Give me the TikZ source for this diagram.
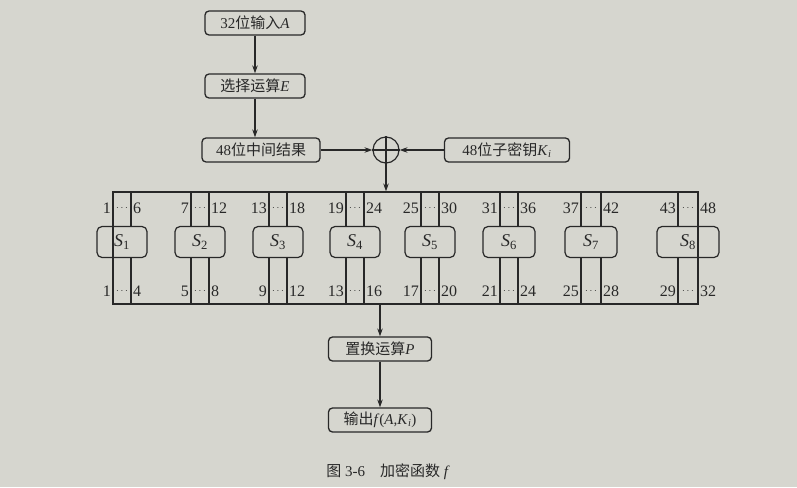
\documentclass[tikz,border=0pt]{standalone}
\usepackage{fontspec}
\setmainfont{Liberation Serif}
\newfontfamily\cjk{Noto Sans CJK SC}
\usetikzlibrary{shapes.geometric, arrows.meta}
\definecolor{paper}{RGB}{214,214,207}
\definecolor{ink}{RGB}{40,40,40}
\tikzstyle{opbox} = [rectangle, rounded corners=4pt, minimum height=24pt, inner xsep=3pt, text centered, draw=ink, line width=1.3pt, font=\fontsize{15}{17}\selectfont]
\tikzstyle{sbox} = [rectangle, rounded corners=5pt, minimum height=31pt, draw=ink, line width=1.2pt, font=\fontsize{18}{20}\selectfont]
\tikzstyle{bank} = [rectangle, draw=ink, line width=1.2pt, inner sep=0pt]
\tikzstyle{bitno} = [inner sep=2pt, font=\fontsize{16}{18}\selectfont]
\tikzstyle{bitdots} = [inner sep=0pt, font=\fontsize{10}{12}\selectfont]
\tikzstyle{arrow} = [draw=ink, line width=1.1pt, -{Stealth[length=8pt, width=5.5pt]}]

\begin{document}
\begin{tikzpicture}[x=1pt, y=-1pt, color=ink]
\useasboundingbox [fill=paper] (0,0) rectangle (797,487);
\node (input) [opbox, minimum width=100pt] at (255,23) {32{\cjk 位输入}\textit{A}};
\node (expand) [opbox, minimum width=100pt] at (255,86) {{\cjk 选择运算}\textit{E}};
\node (mid) [opbox, minimum width=118pt] at (261,150) {48{\cjk 位中间结果}};
\node (xor) [circle, draw=ink, line width=1.2pt, minimum size=26pt, inner sep=0pt] at (386,150) {};
\node (key) [opbox, minimum width=125pt] at (507,150) {48{\cjk 位子密钥}\textit{K}\textsubscript{\textit{i}}};
\node (sbank) [bank, minimum width=585pt, minimum height=112pt] at (405.5,248) {};
\node (perm) [opbox, minimum width=103pt] at (380,349) {{\cjk 置换运算}\textit{P}};
\node (output) [opbox, minimum width=103pt] at (380,420) {{\cjk 输出}\textit{f}(\textit{A},\textit{K}\textsubscript{\textit{i}})};
\node (caption) [font=\fontsize{15}{17}\selectfont] at (388,472) {{\cjk 图} 3-6\quad{\cjk 加密函数} \textit{f}};
% plus sign inside the xor
\draw [line width=1.1pt] (xor.north) -- (xor.south);
\draw [line width=1.1pt] (xor.west) -- (xor.east);
% the eight S-boxes
\foreach \i/\cx/\w/\h/\ia/\ib/\oa/\ob in {1/122/50/9/1/6/1/4, 2/200/50/9/7/12/5/8, 3/278/50/9/13/18/9/12, 4/355/50/9/19/24/13/16, 5/430/50/9/25/30/17/20, 6/509/52/9/31/36/21/24, 7/591/52/10/37/42/25/28, 8/688/62/10/43/48/29/32}{
  \node (s\i) [sbox, minimum width=\w pt] at (\cx,242) {\textit{S}\textsubscript{\i}};
  \draw [line width=1.2pt] ([xshift=-\h pt]s\i.north) -- ([xshift=-\h pt]s\i.north |- sbank.north);
  \draw [line width=1.2pt] ([xshift=\h pt]s\i.north) -- ([xshift=\h pt]s\i.north |- sbank.north);
  \draw [line width=1.2pt] ([xshift=-\h pt]s\i.south) -- ([xshift=-\h pt]s\i.south |- sbank.south);
  \draw [line width=1.2pt] ([xshift=\h pt]s\i.south) -- ([xshift=\h pt]s\i.south |- sbank.south);
  \node [bitno, anchor=east] at (\cx-\h,208) {\ia};
  \node [bitdots] at (\cx,208) {$\cdots$};
  \node [bitno, anchor=west] at (\cx+\h,208) {\ib};
  \node [bitno, anchor=east] at (\cx-\h,291) {\oa};
  \node [bitdots] at (\cx,291) {$\cdots$};
  \node [bitno, anchor=west] at (\cx+\h,291) {\ob};
}
\draw [arrow] (input) -- (expand);
\draw [arrow] (expand) -- (expand.south |- mid.north);
\draw [arrow] (mid) -- (xor);
\draw [arrow] (key) -- (xor);
\draw [arrow] (xor) -- (xor |- sbank.north);
\draw [arrow] (sbank.south -| perm.north) -- (perm);
\draw [arrow] (perm) -- (output);
\end{tikzpicture}
\end{document}
